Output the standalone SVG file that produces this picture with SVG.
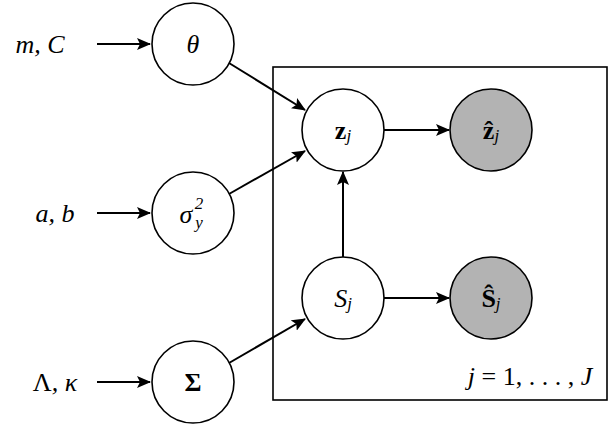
<svg xmlns="http://www.w3.org/2000/svg" width="610" height="433" viewBox="0 0 610 433">
<style>
.n{fill:#fff;stroke:#000;stroke-width:1.6}
.o{fill:#b3b3b3;stroke:#000;stroke-width:1.6}
.e{stroke:#000;stroke-width:2;fill:none;marker-end:url(#a)}
text{font-family:"Liberation Serif",serif;font-size:26px;font-style:italic;text-anchor:middle;dominant-baseline:central}
.b{font-weight:bold;font-style:normal}
.s{font-size:17px}
</style>
<defs><marker id="a" viewBox="0 0 14 12" refX="13" refY="6" markerWidth="14" markerHeight="12" markerUnits="userSpaceOnUse" orient="auto"><path d="M0,0L14,6L0,12L3,6z" fill="#000"/></marker></defs>
<rect x="273" y="67" width="334" height="333" fill="none" stroke="#000" stroke-width="1.6"/>
<g id="connectors">
<path class="e" d="M97,44H150"/>
<path class="e" d="M97,213H150"/>
<path class="e" d="M97,382H150"/>
<path class="e" d="M229,63L305,110"/>
<path class="e" d="M229,194L305,151"/>
<path class="e" d="M229,363L305,319"/>
<path class="e" d="M384,130H449"/>
<path class="e" d="M384,298H449"/>
<path class="e" d="M343,257V172"/>
</g>
<g id="mC"><text x="40" y="44">m, C</text></g>
<g id="ab"><text x="55" y="213">a, b</text></g>
<g id="LK"><text x="55" y="382"><tspan font-style="normal">Λ</tspan>, κ</text></g>
<g id="theta"><circle class="n" cx="193" cy="44" r="41"/><text x="193" y="44">θ</text></g>
<g id="sigma2"><circle class="n" cx="193" cy="213" r="41"/><text x="186" y="214">σ</text><text class="s" x="199" y="203" font-style="normal">2</text><text class="s" x="199" y="222">y</text></g>
<g id="Sigma"><circle class="n" cx="193" cy="382" r="41"/><text x="193" y="382" class="b">Σ</text></g>
<g id="z"><circle class="n" cx="343" cy="130" r="41"/><text x="343" y="130"><tspan class="b">z</tspan><tspan class="s" dy="5">j</tspan></text></g>
<g id="zhat"><circle class="o" cx="491" cy="130" r="41"/><text x="491" y="130"><tspan class="b">ẑ</tspan><tspan class="s" dy="5">j</tspan></text></g>
<g id="S"><circle class="n" cx="343" cy="298" r="41"/><text x="343" y="298">S<tspan class="s" dy="5">j</tspan></text></g>
<g id="Shat"><circle class="o" cx="491" cy="298" r="41"/><text x="491" y="298"><tspan class="b">Ŝ</tspan><tspan class="s" dy="5">j</tspan></text></g>
<text x="530" y="376">j <tspan font-style="normal">= 1, . . . ,</tspan> J</text>
</svg>
